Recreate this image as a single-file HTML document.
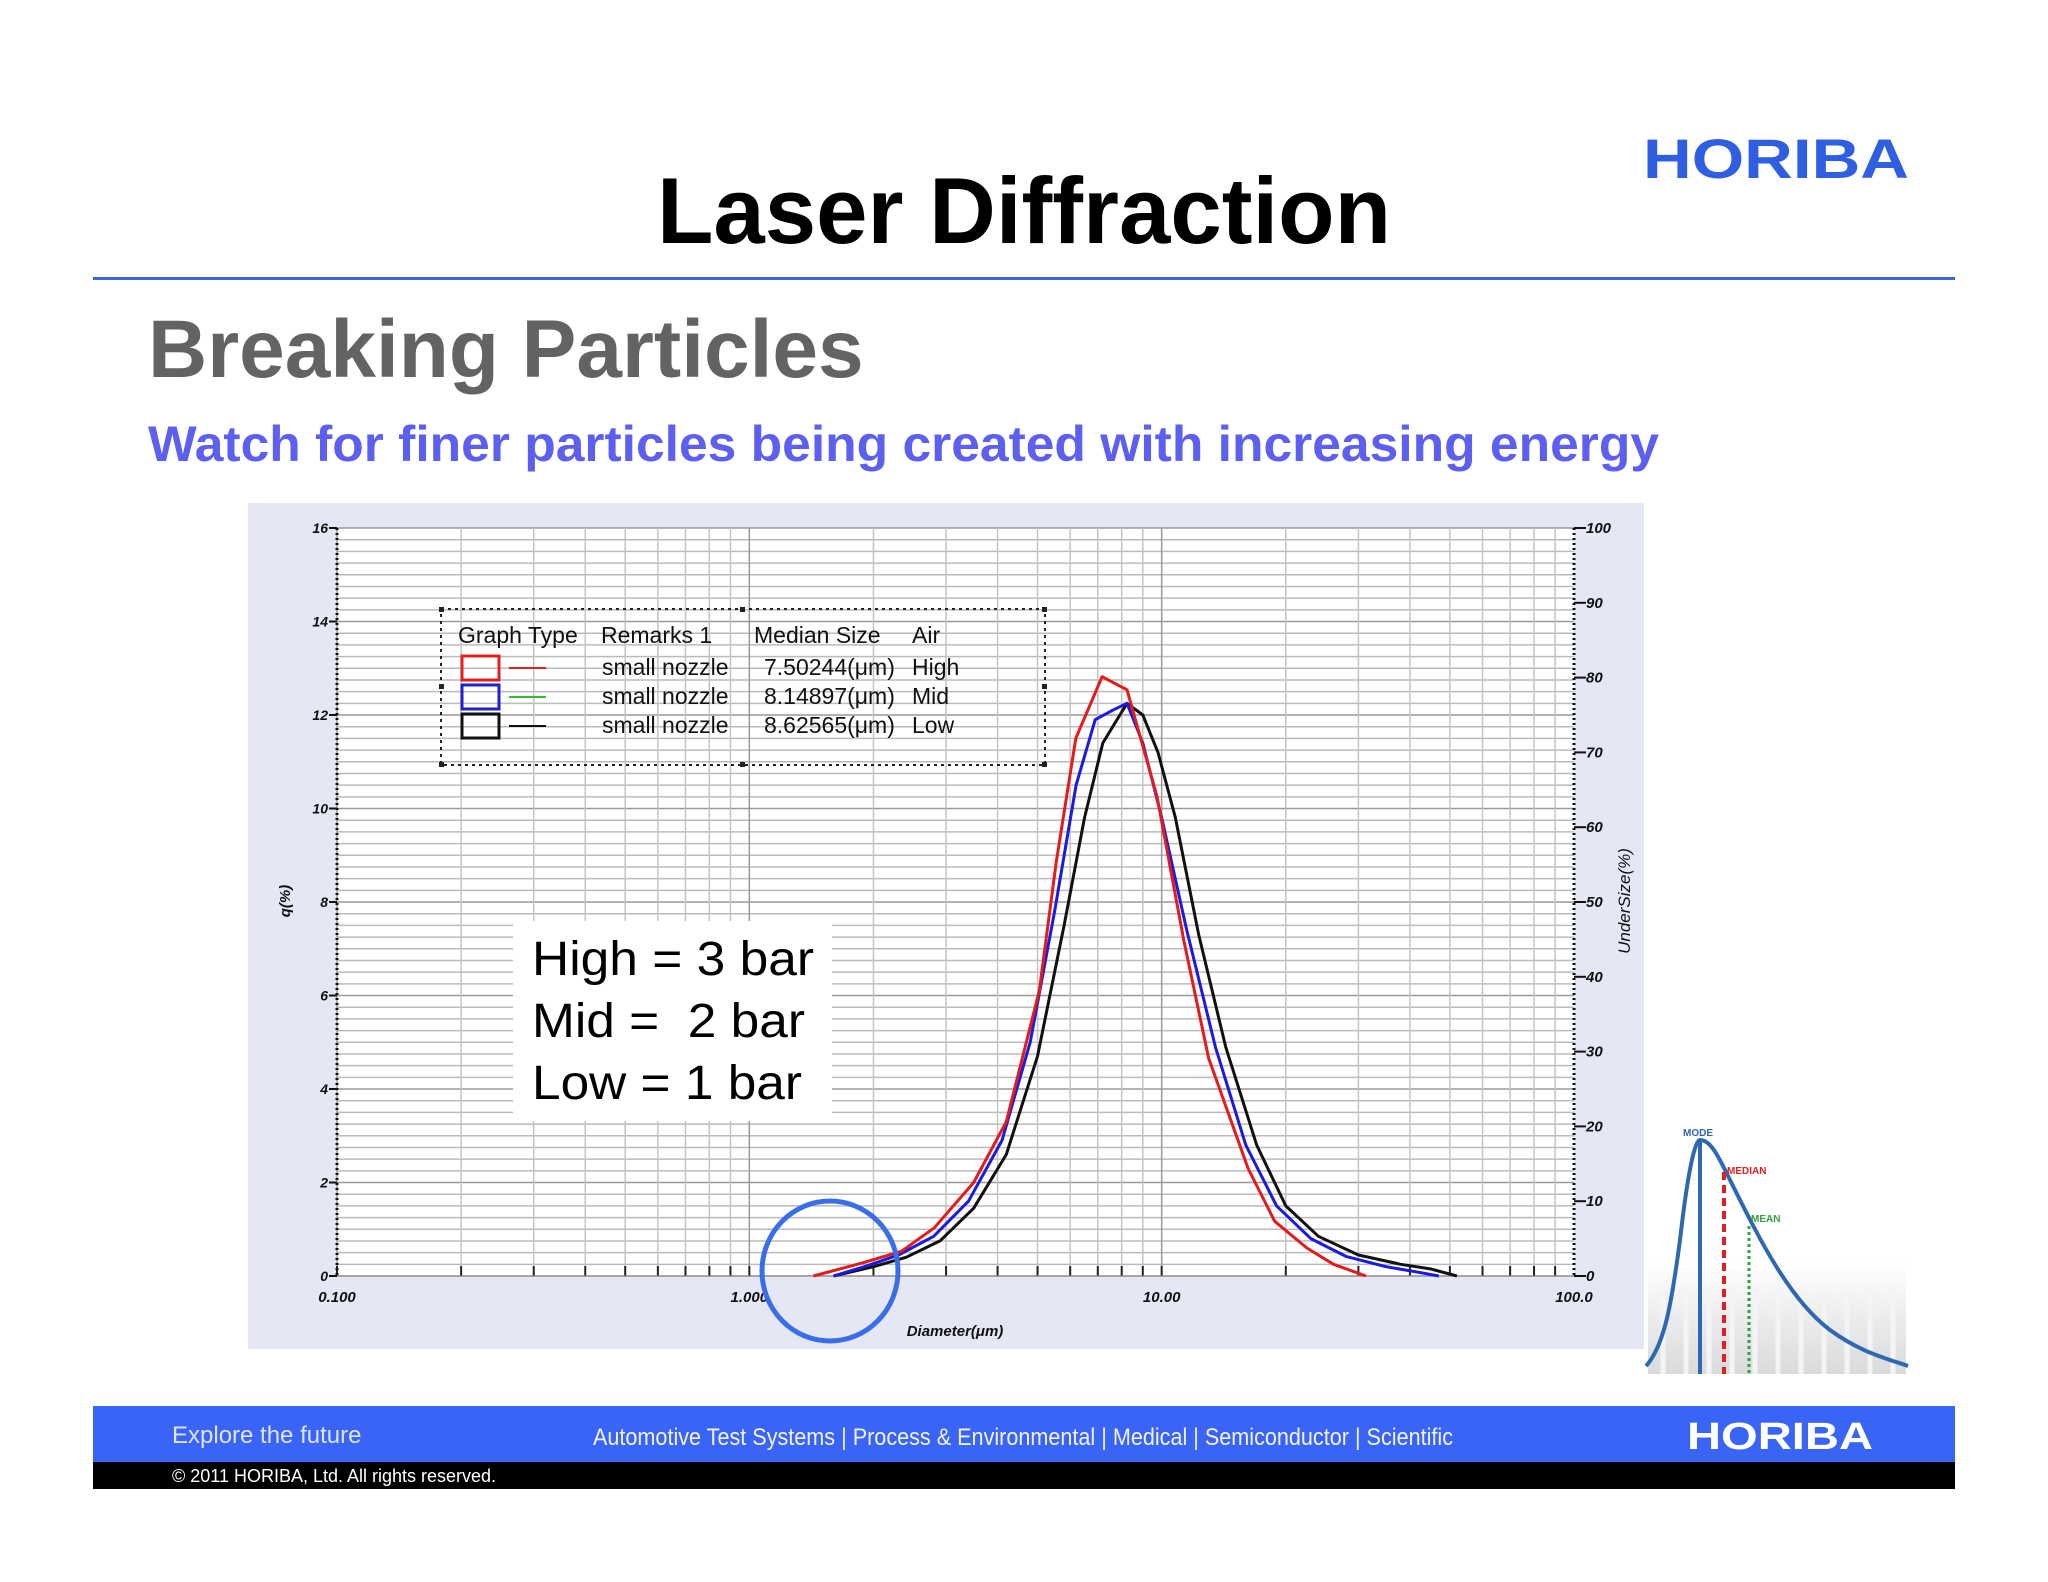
<!DOCTYPE html>
<html><head><meta charset="utf-8"><style>
html,body{margin:0;padding:0;background:#fff;}
body{width:2048px;height:1582px;overflow:hidden;position:relative;font-family:"Liberation Sans",sans-serif;}
svg{position:absolute;left:0;top:0;}
</style></head><body>
<svg id="s" width="2048" height="1582" viewBox="0 0 2048 1582" xmlns="http://www.w3.org/2000/svg" font-family="Liberation Sans, sans-serif">
  <defs>
    <linearGradient id="fade" x1="0" y1="0" x2="0" y2="1">
      <stop offset="0" stop-color="#fff"/><stop offset="1" stop-color="#d8dadc"/>
    </linearGradient>
  </defs>
  <text x="1024" y="243" font-size="94" font-weight="bold" text-anchor="middle" fill="#000" textLength="734" lengthAdjust="spacingAndGlyphs">Laser Diffraction</text>
  <text x="1643" y="178" font-size="56" font-weight="900" fill="#2f5fe0" textLength="266" lengthAdjust="spacingAndGlyphs">HORIBA</text>
  <rect x="93" y="277" width="1862" height="3" fill="#3b66d8"/>
  <text x="148" y="377" font-size="82" font-weight="bold" fill="#636363">Breaking Particles</text>
  <text x="148" y="461" font-size="50" font-weight="bold" fill="#5c5ff0" textLength="1511" lengthAdjust="spacingAndGlyphs">Watch for finer particles being created with increasing energy</text>

  <rect x="248" y="503" width="1396" height="846" fill="#e5e7f5"/>
  <rect x="337" y="528" width="1237" height="748" fill="#fff"/>
  <g id="grid"></g>
  <g id="axes"></g>
  <g id="series"></g>

  <g font-size="23" fill="#111">
    <rect x="441" y="609" width="604" height="156" fill="none" stroke="#222" stroke-width="2" stroke-dasharray="3,4"/>
    <rect x="439" y="607" width="5" height="5" fill="#222"/><rect x="740" y="607" width="5" height="5" fill="#222"/><rect x="1042" y="607" width="5" height="5" fill="#222"/>
    <rect x="439" y="762" width="5" height="5" fill="#222"/><rect x="740" y="762" width="5" height="5" fill="#222"/><rect x="1042" y="762" width="5" height="5" fill="#222"/>
    <rect x="439" y="684" width="5" height="5" fill="#222"/><rect x="1042" y="684" width="5" height="5" fill="#222"/>
    <text x="458" y="643">Graph Type</text><text x="601" y="643">Remarks 1</text><text x="754" y="643">Median Size</text><text x="912" y="643">Air</text>
    <rect x="462" y="656" width="37" height="24" fill="none" stroke="#e02020" stroke-width="3"/>
    <line x1="509" y1="668" x2="546" y2="668" stroke="#e02020" stroke-width="2"/>
    <rect x="462" y="685" width="37" height="24" fill="none" stroke="#2020d0" stroke-width="3"/>
    <line x1="509" y1="697" x2="546" y2="697" stroke="#30c030" stroke-width="2"/>
    <rect x="462" y="714" width="37" height="24" fill="none" stroke="#111" stroke-width="3"/>
    <line x1="509" y1="726" x2="546" y2="726" stroke="#111" stroke-width="2"/>
    <text x="602" y="675">small nozzle</text><text x="764" y="675">7.50244(μm)</text><text x="912" y="675">High</text>
    <text x="602" y="704">small nozzle</text><text x="764" y="704">8.14897(μm)</text><text x="912" y="704">Mid</text>
    <text x="602" y="733">small nozzle</text><text x="764" y="733">8.62565(μm)</text><text x="912" y="733">Low</text>
  </g>

  <g>
    <rect x="513" y="921" width="319" height="200" fill="#fff"/>
    <text x="532" y="975" font-size="48" fill="#000" textLength="282" lengthAdjust="spacingAndGlyphs">High = 3 bar</text>
    <text x="532" y="1037" font-size="48" fill="#000" xml:space="preserve" textLength="273" lengthAdjust="spacingAndGlyphs">Mid =  2 bar</text>
    <text x="532" y="1099" font-size="48" fill="#000" textLength="270" lengthAdjust="spacingAndGlyphs">Low = 1 bar</text>
  </g>
  <ellipse cx="830" cy="1271" rx="68" ry="70" fill="none" stroke="#3a6ee8" stroke-width="5"/>

  <g>
    <rect x="1648" y="1262" width="258" height="112" fill="url(#fade)"/>
    <g stroke="#f4f4f4" stroke-width="5">
      <line x1="1663" y1="1290" x2="1663" y2="1374"/><line x1="1686" y1="1290" x2="1686" y2="1374"/><line x1="1709" y1="1290" x2="1709" y2="1374"/><line x1="1732" y1="1290" x2="1732" y2="1374"/><line x1="1755" y1="1290" x2="1755" y2="1374"/><line x1="1778" y1="1290" x2="1778" y2="1374"/><line x1="1801" y1="1290" x2="1801" y2="1374"/><line x1="1824" y1="1290" x2="1824" y2="1374"/><line x1="1847" y1="1290" x2="1847" y2="1374"/><line x1="1870" y1="1290" x2="1870" y2="1374"/><line x1="1893" y1="1290" x2="1893" y2="1374"/>
    </g>
    <path d="M1646 1366 C1665 1345,1672 1300,1680 1240 C1688 1170,1695 1140,1700 1140 C1712 1140,1720 1160,1735 1190 C1760 1240,1790 1300,1830 1330 C1860 1352,1885 1358,1908 1366" fill="none" stroke="#2d68b0" stroke-width="4"/>
    <line x1="1700" y1="1140" x2="1700" y2="1374" stroke="#2d68b0" stroke-width="4"/>
    <line x1="1724" y1="1172" x2="1724" y2="1374" stroke="#e02020" stroke-width="4" stroke-dasharray="8,5"/>
    <line x1="1749" y1="1226" x2="1749" y2="1374" stroke="#30a040" stroke-width="3" stroke-dasharray="3,3"/>
    <text x="1683" y="1136" font-size="10" font-weight="bold" fill="#2d68b0">MODE</text>
    <text x="1727" y="1174" font-size="10" font-weight="bold" fill="#e02020">MEDIAN</text>
    <text x="1751" y="1222" font-size="10" font-weight="bold" fill="#30a040">MEAN</text>
  </g>

  <rect x="93" y="1406" width="1862" height="56" fill="#3a64f5"/>
  <text x="172" y="1443" font-size="24" fill="#dde4ff">Explore the future</text>
  <text x="593" y="1445" font-size="24" fill="#f0f3ff" textLength="860" lengthAdjust="spacingAndGlyphs">Automotive Test Systems | Process &amp; Environmental | Medical | Semiconductor | Scientific</text>
  <text x="1687" y="1449" font-size="38" font-weight="900" fill="#fff" textLength="186" lengthAdjust="spacingAndGlyphs">HORIBA</text>
  <rect x="93" y="1462" width="1862" height="27" fill="#000"/>
  <text x="172" y="1482" font-size="18" fill="#fff">© 2011 HORIBA, Ltd. All rights reserved.</text>
</svg>
<script>
// Chart data
const xTickLabels = ["0.100", "1.000", "10.00", "100.0"];
const xTickValues = [0.1, 1, 10, 100];
const yLeftTicks = [0, 2, 4, 6, 8, 10, 12, 14, 16];
const yRightTicks = [0, 10, 20, 30, 40, 50, 60, 70, 80, 90, 100];
const highD = [1.43, 1.88, 2.34, 2.81, 3.5, 4.2, 5.05, 5.55, 6.19, 7.17, 8.24, 9.75, 11.3, 13.0, 16.2, 18.8, 22.5, 26.1, 31.3];
const highQ = [0, 0.28, 0.53, 1.03, 2.0, 3.3, 6.1, 8.85, 11.5, 12.82, 12.54, 10.25, 7.2, 4.66, 2.3, 1.17, 0.6, 0.25, 0];
const midD = [1.6, 1.9, 2.3, 2.8, 3.4, 4.1, 4.8, 5.5, 6.2, 6.9, 7.6, 8.24, 9.0, 10.0, 11.5, 13.5, 16, 19, 23, 28, 35, 42, 47];
const midQ = [0, 0.2, 0.45, 0.85, 1.6, 2.9, 5.0, 7.8, 10.5, 11.9, 12.1, 12.25, 11.4, 9.8, 7.4, 4.9, 2.8, 1.5, 0.8, 0.42, 0.2, 0.08, 0];
const lowD = [1.6, 2.0, 2.4, 2.9, 3.5, 4.2, 5.0, 5.8, 6.5, 7.2, 8.24, 9.0, 9.8, 10.8, 12.3, 14.3, 17, 20, 24, 30, 38, 45, 52];
const lowQ = [0, 0.2, 0.4, 0.75, 1.45, 2.6, 4.7, 7.5, 9.8, 11.4, 12.25, 12.0, 11.2, 9.8, 7.3, 4.9, 2.8, 1.5, 0.85, 0.45, 0.25, 0.15, 0];

const NS = "http://www.w3.org/2000/svg";
const L = 337, R = 1574, T = 528, B = 1276;
function xs(d){ return L + (Math.log10(d) + 1) / 3 * (R - L); }
function ys(q){ return B - q / 16 * (B - T); }
function yr(p){ return B - p / 100 * (B - T); }
function mk(tag, attrs, parent){ const e = document.createElementNS(NS, tag); for (const k in attrs) e.setAttribute(k, attrs[k]); parent.appendChild(e); return e; }

const grid = document.getElementById('grid');
const axes = document.getElementById('axes');
const series = document.getElementById('series');

for (let i = 0; i <= 64; i++) {
  const y = ys(i * 0.25);
  const ln = mk('line', {x1: L, x2: R, y1: y, y2: y, stroke: i % 8 === 0 ? '#999' : '#bbb', 'stroke-width': 1.5}, grid);
  
  
}
for (let dec = -1; dec < 2; dec++) {
  for (let m = 1; m <= 9; m++) {
    const x = xs(m * Math.pow(10, dec));
    const ln = mk('line', {x1: x, x2: x, y1: T, y2: B, stroke: m === 1 ? '#999' : '#c4c4c4', 'stroke-width': 1.5}, grid);
    
    
    const tk = mk('line', {x1: x, x2: x, y1: B - 10, y2: B, stroke: '#222', 'stroke-width': 2}, axes);
    
    
  }
}
mk('line', {x1: L, x2: L, y1: T, y2: B, stroke: '#111', 'stroke-width': 3, 'stroke-dasharray': '2,3'}, axes);
mk('line', {x1: R, x2: R, y1: T, y2: B, stroke: '#111', 'stroke-width': 3, 'stroke-dasharray': '2,3'}, axes);
mk('line', {x1: L, x2: R, y1: B, y2: B, stroke: '#888', 'stroke-width': 1}, axes);

yLeftTicks.forEach(v => {
  const y = ys(v);
  mk('line', {x1: L - 8, x2: L, y1: y, y2: y, stroke: '#111', 'stroke-width': 2}, axes);
  const t = mk('text', {x: L - 9, y: y + 5, 'font-size': 14, 'font-weight': 'bold', 'font-style': 'italic', 'text-anchor': 'end', fill: '#111'}, axes);
  t.textContent = v;
  
  
});
yRightTicks.forEach(v => {
  const y = yr(v);
  mk('line', {x1: R, x2: R + 12, y1: y, y2: y, stroke: '#111', 'stroke-width': 2}, axes);
  const t = mk('text', {x: R + 12, y: y + 5, 'font-size': 15, 'font-weight': 'bold', 'font-style': 'italic', fill: '#111'}, axes);
  t.textContent = v;
  
  
});
xTickValues.forEach((v, i) => {
  const t = mk('text', {x: xs(v), y: B + 26, 'font-size': 15, 'font-weight': 'bold', 'font-style': 'italic', 'text-anchor': 'middle', fill: '#111'}, axes);
  t.textContent = xTickLabels[i];
  
  
});
const xt = mk('text', {x: 955, y: 1336, 'font-size': 15, 'font-weight': 'bold', 'font-style': 'italic', 'text-anchor': 'middle', fill: '#111'}, axes);
xt.textContent = 'Diameter(μm)';


const ylt = mk('text', {x: 0, y: 0, 'font-size': 15, 'font-weight': 'bold', 'font-style': 'italic', 'text-anchor': 'middle', fill: '#111', transform: 'translate(290,901) rotate(-90)'}, axes);
ylt.textContent = 'q(%)';


const yrt = mk('text', {x: 0, y: 0, 'font-size': 17, 'font-style': 'italic', 'text-anchor': 'middle', fill: '#111', transform: 'translate(1630,901) rotate(-90)'}, axes);
yrt.textContent = 'UnderSize(%)';



function drawSeries(D, Q, color, name){
  const pts = D.map((d, i) => xs(d).toFixed(1) + ',' + ys(Q[i]).toFixed(1)).join(' ');
  const p = mk('polyline', {points: pts, fill: 'none', stroke: color, 'stroke-width': 3, 'stroke-linejoin': 'round'}, series);
  
  
}
drawSeries(lowD, lowQ, '#111', 'series-low');
drawSeries(midD, midQ, '#1a1ae0', 'series-mid');
drawSeries(highD, highQ, '#e31b1b', 'series-high');
</script>
</body></html>
